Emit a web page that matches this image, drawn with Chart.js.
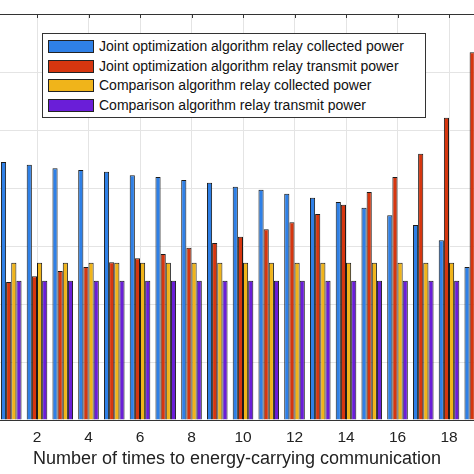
<!DOCTYPE html>
<html>
<head>
<meta charset="utf-8">
<script src="https://cdn.jsdelivr.net/npm/chart.js@4"></script>
<style>
  body { margin: 0; background: #fff; }
  #wrap { position: relative; width: 474px; height: 474px; }
  #legend {
    position: absolute; left: 42px; top: 33px; width: 382px;
    border: 1px solid #333; background: #fff;
    font: 14px "Liberation Sans", Arial, sans-serif; color: #111;
    padding: 3px 0 2px 0;
  }
  #legend div { height: 19.5px; line-height: 19.5px; white-space: nowrap; }
  #legend span.sw {
    display: inline-block; width: 46px; height: 13px; margin: 0 5px 0 5px;
    vertical-align: -2px; border: 1px solid #222; box-sizing: border-box;
  }
</style>
</head>
<body>
<div id="wrap">
  <canvas id="chart" width="474" height="474"></canvas>
  <div id="legend"></div>
</div>
<script>
// x categories (number of communications)
const rounds = [1,2,3,4,5,6,7,8,9,10,11,12,13,14,15,16,17,18,19];

const jointCollected = [4.45,4.40,4.34,4.31,4.28,4.22,4.19,4.14,4.09,4.02,3.97,3.90,3.83,3.76,3.66,3.53,3.36,3.10,2.64];
const jointTransmit  = [2.38,2.48,2.57,2.64,2.72,2.79,2.86,2.97,3.05,3.16,3.29,3.41,3.55,3.71,3.93,4.19,4.59,5.21,6.34];
const compCollected  = [2.71,2.71,2.71,2.71,2.71,2.71,2.71,2.71,2.71,2.71,2.71,2.71,2.71,2.71,2.71,2.71,2.71,2.71,2.71];
const compTransmit   = [2.40,2.40,2.40,2.40,2.40,2.40,2.40,2.40,2.40,2.40,2.40,2.40,2.40,2.40,2.40,2.40,2.40,2.40,2.40];

const seriesNames = [
  "Joint optimization algorithm relay collected power",
  "Joint optimization algorithm relay transmit power",
  "Comparison algorithm relay collected power",
  "Comparison algorithm relay transmit power"
];
const seriesColors = ['#2f80e6', '#d6360f', '#f0b41a', '#6a1ed8'];

const allSeries = [jointCollected, jointTransmit, compCollected, compTransmit];

function toPoints(vals) {
  return vals.map((v, i) => ({x: rounds[i], y: v}));
}

// top box line with inward ticks, MATLAB style
const topBorder = {
  id: 'topBorder',
  afterDraw(chart) {
    const {ctx, chartArea: {top, left, right}, scales: {x}} = chart;
    ctx.save();
    ctx.strokeStyle = '#333';
    ctx.lineWidth = 1;
    ctx.beginPath();
    ctx.moveTo(left, top + 0.5);
    ctx.lineTo(right, top + 0.5);
    for (let v = 2; v <= 18; v += 2) {
      const px = Math.round(x.getPixelForValue(v)) + 0.5;
      ctx.moveTo(px, top);
      ctx.lineTo(px, top + 4);
    }
    ctx.stroke();
    ctx.restore();
  }
};

const ctx = document.getElementById('chart');
new Chart(ctx, {
  type: 'bar',
  data: {
    datasets: allSeries.map((s, i) => ({
      label: seriesNames[i],
      data: toPoints(s),
      backgroundColor: seriesColors[i],
      borderColor: '#1a1a1a',
      borderWidth: 1,
      categoryPercentage: 0.8,
      barPercentage: 1.0
    }))
  },
  options: {
    responsive: false,
    animation: false,
    layout: { padding: { top: 14, left: 0, right: 0, bottom: 0 } },
    plugins: { legend: { display: false }, tooltip: { enabled: false } },
    scales: {
      x: {
        type: 'linear',
        offset: false,
        min: 0.563,
        max: 18.97,
        afterBuildTicks: axis => {
          axis.ticks = [2,4,6,8,10,12,14,16,18].map(v => ({value: v}));
        },
        afterFit: axis => { axis.height = 54; },
        grid: { color: '#e4e4e4', tickLength: 0, offset: false },
        border: { color: '#333' },
        ticks: {
          color: '#222', padding: 8,
          font: { family: 'Liberation Sans', size: 15.5 }
        },
        title: {
          display: true,
          text: 'Number of times to energy-carrying communication',
          color: '#222', padding: { top: 0 },
          font: { family: 'Liberation Sans', size: 18 }
        }
      },
      y: {
        min: 0,
        max: 7,
        afterFit: axis => { axis.width = 0; },
        ticks: { display: false, stepSize: 1 },
        grid: { color: '#e4e4e4', tickLength: 0 },
        border: { display: false }
      }
    }
  },
  plugins: [topBorder]
});

const legend = document.getElementById('legend');
seriesNames.forEach((name, i) => {
  const row = document.createElement('div');
  row.innerHTML = '<span class="sw" style="background:' + seriesColors[i] + '"></span>' + name;
  legend.appendChild(row);
});
</script>
</body>
</html>
